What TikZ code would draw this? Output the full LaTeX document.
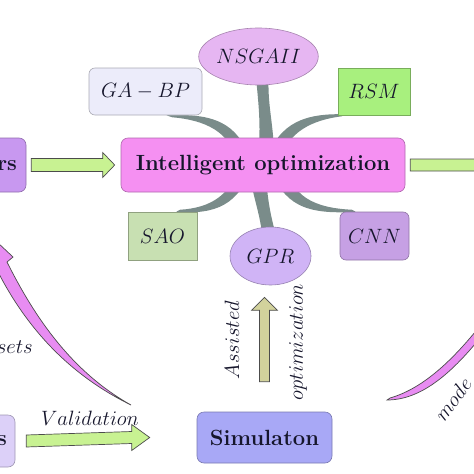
\documentclass[tikz,border=0pt]{standalone}
\usetikzlibrary{calc,backgrounds,shapes.geometric}
\definecolor{txt}{HTML}{16162C}
\definecolor{cintel}{HTML}{F590F2}
\definecolor{clbox}{HTML}{C898F0}
\definecolor{cgreen}{HTML}{C8F292}
\definecolor{cgabp}{HTML}{ECECFA}
\definecolor{cnsga}{HTML}{E6B6F2}
\definecolor{crsm}{HTML}{A8F07E}
\definecolor{csao}{HTML}{C8E0B2}
\definecolor{cgpr}{HTML}{D0B4F6}
\definecolor{ccnn}{HTML}{C6A0E4}
\definecolor{cconn}{HTML}{7A8C8A}
\definecolor{cpink}{HTML}{E88CF2}
\definecolor{csbox}{HTML}{DCD0F8}
\definecolor{csim}{HTML}{A8A8F6}
\definecolor{ckhaki}{HTML}{D2D29C}
\newcommand\harrowshape[6]{% style, start, end, shaft half, head half, head length
  \draw[#1] ($(#2)+(0,-#4)$) -- ($(#3)+(-#6,-#4)$) -- ($(#3)+(-#6,-#5)$) -- (#3)
    -- ($(#3)+(-#6,#5)$) -- ($(#3)+(-#6,#4)$) -- ($(#2)+(0,#4)$) -- cycle;}
\newcommand\varrowshape[6]{% style, start(bottom), end(top), shaft half, head half, head length
  \draw[#1] ($(#2)+(-#4,0)$) -- ($(#3)+(-#4,#6)$) -- ($(#3)+(-#5,#6)$) -- (#3)
    -- ($(#3)+(#5,#6)$) -- ($(#3)+(#4,#6)$) -- ($(#2)+(#4,0)$) -- cycle;}
\begin{document}
\begin{tikzpicture}[x=1pt,y=-1pt,
  every node/.style={text=txt,inner sep=0pt,font=\fontsize{22}{26}\selectfont},
  bold/.style={font=\fontsize{22}{26}\selectfont\bfseries},
  box/.style={draw=#1!72!black, fill=#1, line width=0.6pt},
  conn/.style={fill=cconn},
  fatarrow/.style={fill=#1, draw=black!70, line width=0.7pt},
  pinkarrow/.style={fill=cpink, draw=black!70, line width=0.7pt}]
\useasboundingbox (0,0) rectangle (474,474);
\clip (0,0) rectangle (474,474);

% nodes
\node[box=cintel, rounded corners=7pt, minimum width=284pt, minimum height=54pt, bold] (intel) at (263,165) {Intelligent optimization};
\node[box=clbox, rounded corners=7pt, minimum width=66pt, minimum height=54pt] (lbox) at (-7,165) {};
\node[bold] (lboxtext) at (7,166) {rs};
\node[box=cgabp, rounded corners=6pt, minimum width=113pt, minimum height=47pt] (gabp) at (145.5,91.5) {$GA-BP$};
\node[box=cnsga, ellipse, minimum width=117pt, minimum height=57pt] (nsga) at (258.5,56.5) {$NSGAII$};
\node[box=crsm, minimum width=72pt, minimum height=47pt] (rsm) at (374,91.5) {$RSM$};
\node[box=csao, minimum width=69pt, minimum height=48pt] (sao) at (162.5,236) {$SAO$};
\node[box=cgpr, ellipse, minimum width=81pt, minimum height=58pt] (gpr) at (270.5,256) {$GPR$};
\node[box=ccnn, rounded corners=6pt, minimum width=69pt, minimum height=48pt] (cnn) at (374.5,236) {$CNN$};
\node[box=csim, rounded corners=7pt, minimum width=135pt, minimum height=51pt, bold] (sim) at (264.5,437.5) {Simulaton};
\node[box=csbox, rounded corners=7pt, minimum width=55pt, minimum height=52pt] (sbox) at (-12.5,441) {};
\node[bold] (sboxtext) at (2,441) {s};

% mind-map connectors behind the nodes
\begin{pgfonlayer}{background}
\fill[conn] ($(gabp.south east)+(-36,0)$) .. controls (212,113) and (238,122) .. ($(intel.center)+(-13,-5)$)
  -- ($(intel.center)+(-27,-5)$) .. controls (230,132) and (205,120) .. ($(gabp.south east)+(-30,2)$) -- cycle;
\fill[conn] ($(nsga.south)+(-2,-3)$) .. controls (259,110) and (261,125) .. ($(intel.center)+(-5,0)$)
  -- ($(intel.center)+(11,0)$) .. controls (275,130) and (268,110) .. ($(nsga.south)+(10,-3)$) -- cycle;
\fill[conn] ($(rsm.south west)+(9,-1)$) .. controls (305,113) and (280,122) .. ($(intel.center)+(3,-5)$)
  -- ($(intel.center)+(17,-5)$) .. controls (288,132) and (312,120) .. ($(rsm.south west)+(4,1)$) -- cycle;
\fill[conn] ($(sao.north east)+(-21,0)$) .. controls (215,215) and (240,205) .. ($(intel.center)+(-11,0)$)
  -- ($(intel.center)+(-25,0)$) .. controls (232,195) and (210,208) .. ($(sao.north east)+(-17,-2)$) -- cycle;
\fill[conn] ($(intel.center)+(-13,0)$) .. controls (250,190) and (258,205) .. ($(gpr.north)+(-9,3)$)
  -- ($(gpr.north)+(4,3)$) .. controls (268,205) and (266,185) .. ($(intel.center)+(3,0)$) -- cycle;
\fill[conn] ($(cnn.north west)+(16,0)$) .. controls (306,215) and (282,205) .. ($(intel.center)+(7,0)$)
  -- ($(intel.center)+(25,0)$) .. controls (290,195) and (313,208) .. ($(cnn.north west)+(12,-2)$) -- cycle;
\end{pgfonlayer}

% fat arrows
\coordinate (a1s) at ($(lbox.east)+(5,0)$);
\coordinate (a1e) at ($(intel.west)+(-6,0)$);
\harrowshape{fatarrow=cgreen}{a1s}{a1e}{6.5}{12.5}{12}
\coordinate (a4s) at ($(intel.east)+(5,0)$);
\coordinate (a4e) at ($(intel.east)+(95,0)$);
\harrowshape{fatarrow=cgreen}{a4s}{a4e}{6}{12.5}{12}
\coordinate (a2s) at ($(sbox.east)+(11,0)$);
\coordinate (a2e) at ($(sim.west)+(-47,0)$);
\harrowshape{fatarrow=cgreen}{a2s}{a2e}{6}{13}{18}
\coordinate (a3s) at ($(sim.north)+(0,-30)$);
\coordinate (a3e) at ($(a3s |- gpr.south)+(0,12)$);
\varrowshape{fatarrow=ckhaki}{a3s}{a3e}{5}{13}{13}

% curved pink arrows
\coordinate (ltail) at (131,405);
\coordinate (lhead) at (-20,226);
\draw[pinkarrow] (ltail) .. controls (72,372) and (35,318) .. (7,262) -- (13,257) -- (lhead)
  -- (-9,271) -- (-4,268) .. controls (22,320) and (62,370) .. (127,403) -- cycle;
\coordinate (rtail) at (387,400);
\draw[pinkarrow] (rtail) .. controls (420,400) and (450,375) .. (480,338)
  -- (480,326) .. controls (455,357) and (425,388) .. (390,398) -- cycle;

% labels
\node (valid) at (90,418) {$Validation$};
\node[rotate=90] (assist) at (232,340) {$Assisted$};
\node[rotate=90] (optim) at (298,342) {$optimization$};
\node[anchor=east] (sets) at (33,347) {$sets$};
\node[rotate=53] (modelbl) at (453,399) {$mode$};
\end{tikzpicture}
\end{document}
